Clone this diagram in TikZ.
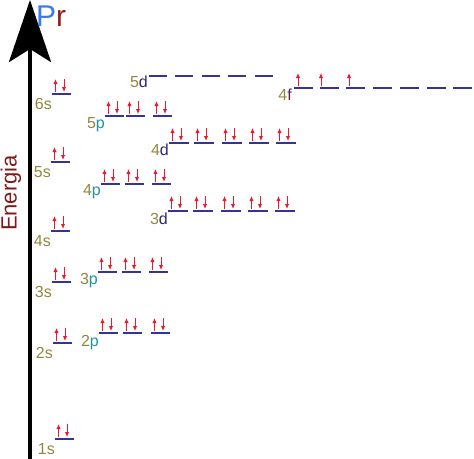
\documentclass[tikz,border=0pt]{standalone}
\usepackage{fontspec}
\setmainfont{Liberation Sans}
\usetikzlibrary{arrows.meta}
\definecolor{orbblue}{RGB}{51,51,153}
\definecolor{elred}{RGB}{232,26,48}
\definecolor{numcol}{RGB}{145,135,60}
\definecolor{pcol}{RGB}{30,150,160}
\definecolor{dcol}{RGB}{40,40,130}
\definecolor{fcol}{RGB}{90,30,90}
\definecolor{enercol}{RGB}{130,25,25}
\definecolor{pblue}{RGB}{60,120,240}
\definecolor{rred}{RGB}{150,25,25}
\newcommand{\nc}[1]{\textcolor{numcol}{#1}}
\begin{document}
\begin{tikzpicture}[x=1pt, y=-1pt,
  orb/.style={draw=orbblue, line width=1.2pt},
  elec/.style={draw=elred, line width=1pt, -{Latex[length=5pt,width=4.5pt]}},
  lbl/.style={anchor=base east, inner sep=0pt, font=\fontsize{16}{16}\selectfont},
  axis/.style={line width=4pt, -{Stealth[length=62pt,width=42pt,inset=13pt]}}]
\useasboundingbox (0,0) rectangle (474,458);
% energy axis
\coordinate (bot) at (30,460);
\coordinate (top) at (30,0);
\draw[axis] (bot) -- (top);
\node[anchor=base west, inner sep=0pt, font=\fontsize{30}{30}\selectfont] (elem) at (36,26) {\textcolor{pblue}{P}\textcolor{rred}{r}};
\node[rotate=90, inner sep=0pt, font=\fontsize{22}{22}\selectfont, text=enercol] (ener) at (11,193) {Energia};
% s orbitals
\foreach \x/\y in {55/439, 53/343, 52/282, 51/231, 51/162, 52/94} {
  \draw[orb] (\x,\y) -- ++(19,0);
  \draw[elec] (\x+3.5,\y-2) -- ++(0,-13);
  \draw[elec] (\x+12,\y-15) -- ++(0,13);
}
\node[lbl] (l1s) at (55,454) {\nc{1s}};
\node[lbl] (l2s) at (53,358) {\nc{2s}};
\node[lbl] (l3s) at (52,297) {\nc{3s}};
\node[lbl] (l4s) at (51,246) {\nc{4s}};
\node[lbl] (l5s) at (51,177) {\nc{5s}};
\node[lbl] (l6s) at (52,109) {\nc{6s}};
% p orbitals
\foreach \x/\y in {99/333, 123/333, 151/333, 98/272, 122/272, 149/272,
                   101/184, 125/184, 152/184, 105/116, 126/116, 153/116} {
  \draw[orb] (\x,\y) -- ++(19,0);
  \draw[elec] (\x+3.5,\y-2) -- ++(0,-13);
  \draw[elec] (\x+12,\y-15) -- ++(0,13);
}
\node[lbl] (l2p) at (99,346) {\nc{2}\textcolor{pcol}{p}};
\node[lbl] (l3p) at (98,284) {\nc{3}\textcolor{pcol}{p}};
\node[lbl] (l4p) at (101,195) {\nc{4}\textcolor{pcol}{p}};
\node[lbl] (l5p) at (105,128) {\nc{5}\textcolor{pcol}{p}};
% d orbitals
\foreach \x/\y in {168/211, 193/211, 221/211, 248/211, 275/211,
                   169/143, 194/143, 222/143, 249/143, 276/143} {
  \draw[orb] (\x,\y) -- ++(20,0);
  \draw[elec] (\x+3.5,\y-2) -- ++(0,-13);
  \draw[elec] (\x+12,\y-15) -- ++(0,13);
}
\foreach \x in {149, 175, 202, 228, 255}
  \draw[orb] (\x,76) -- ++(18,0);
\node[lbl] (l3d) at (168,224) {\nc{3}\textcolor{dcol}{d}};
\node[lbl] (l4d) at (169,155) {\nc{4}\textcolor{dcol}{d}};
\node[lbl] (l5d) at (148,87) {\nc{5}\textcolor{dcol}{d}};
% f orbitals
\foreach \x in {294, 320, 346, 373, 400, 427, 453}
  \draw[orb] (\x,88) -- ++(19,0);
\foreach \x in {298, 321, 349}
  \draw[elec] (\x,86) -- ++(0,-13);
\node[lbl] (l4f) at (292,100) {\nc{4}\textcolor{fcol}{f}};
\end{tikzpicture}
\end{document}
